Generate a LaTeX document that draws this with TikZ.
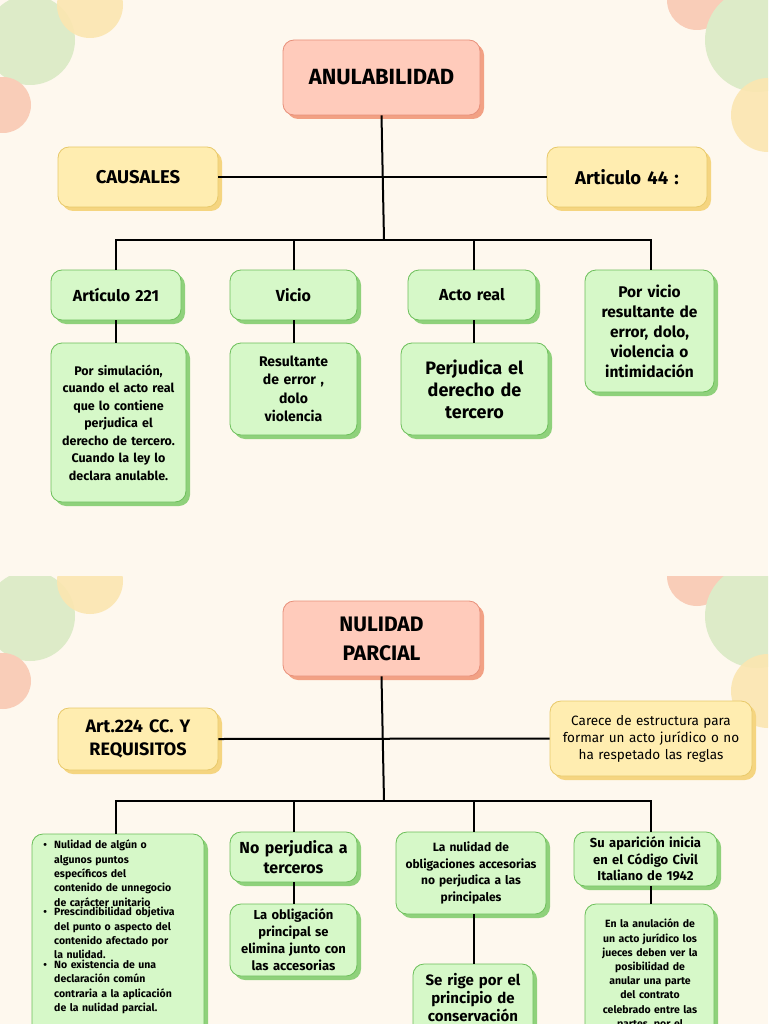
\documentclass[tikz,border=0pt]{standalone}
\usepackage{fontspec}
\setmainfont{Fira Sans}
\usetikzlibrary{shadows}
\definecolor{bg}{HTML}{FEF8EE}
\definecolor{pkf}{HTML}{FFCBBB}\definecolor{pkd}{HTML}{E8907A}\definecolor{pks}{HTML}{F2A184}
\definecolor{ylf}{HTML}{FFEDB0}\definecolor{yld}{HTML}{E8C96A}\definecolor{yls}{HTML}{F5D580}
\definecolor{gnf}{HTML}{D6F8C8}\definecolor{gnd}{HTML}{6CBF5A}\definecolor{gns}{HTML}{8FD17B}
\definecolor{cg}{HTML}{DDEBC8}\definecolor{cy}{HTML}{FBE6B0}\definecolor{cp}{HTML}{F9CDB8}
\tikzset{
  pk/.style={fill=pkf,draw=pkd,drop shadow={shadow xshift=4pt,shadow yshift=-4pt,fill=pks,opacity=1}},
  yl/.style={fill=ylf,draw=yld,drop shadow={shadow xshift=4pt,shadow yshift=-4pt,fill=yls,opacity=1}},
  gn/.style={fill=gnf,draw=gnd,drop shadow={shadow xshift=4pt,shadow yshift=-4pt,fill=gns,opacity=1}},
  bxs/.style={rounded corners=11pt,line width=0.8pt,inner sep=0pt,align=center},
  ln/.style={line width=2pt,black},
  fs/.style 2 args={font=\bfseries\fontsize{#1}{#2}\selectfont},
  every node/.append style={execute at begin node={\hyphenpenalty=10000\exhyphenpenalty=10000}},
}
\newcommand\bx[7]{\node[bxs,#6,minimum width={#4pt-#2pt},minimum height={#5pt-#3pt},text width={#4pt-#2pt-4pt}] (#1) at ({(#2+#4)/2},{(#3+#5)/2}) {#7};}
\newcommand\bul[1]{\makebox[18pt][c]{•}\parbox[t]{150pt}{\raggedright #1}\par}
\newcommand\circs[1]{
  \begin{scope}[yshift={-#1pt}]
  \clip (0,0) rectangle (768,448);
  \fill[cg] (30,40) circle (45);
  \fill[cy,opacity=.9] (90,5) circle (33);
  \fill[cp] (3,105) circle (28);
  \fill[cp] (697,0) circle (30);
  \fill[cg] (757,40) circle (52);
  \fill[cy,opacity=.9] (768,115) circle (37);
  \end{scope}}
\begin{document}
\begin{tikzpicture}[x=1pt,y=-1pt]
\useasboundingbox (0,0) rectangle (768,1024);
\clip (0,0) rectangle (768,1024);
\fill[bg] (0,0) rectangle (768,1024);
\circs{0}
\circs{576}
% ---- top half
\bx{ana}{283}{40}{480}{115}{pk,fs={22}{26}}{ANULABILIDAD}
\bx{cau}{58}{147}{218}{207}{yl,fs={18.5}{22}}{CAUSALES}
\bx{a44}{547}{147}{707}{207}{yl,fs={18.5}{22}}{Articulo 44 :}
\bx{t1}{51}{270}{181}{320}{gn,fs={16}{19}}{Artículo 221}
\bx{t2}{230}{270}{357}{320}{gn,fs={16}{19}}{Vicio}
\bx{t3}{408}{270}{536}{320}{gn,fs={16}{19}}{Acto real}
\bx{t4}{585}{270}{714}{392}{gn,fs={15.5}{20}}{Por vicio\\ resultante de\\ error, dolo,\\ violencia o\\ intimidación}
\bx{c1}{51}{343}{186}{502}{gn,fs={12.5}{17.5}}{Por simulación,\\ cuando el acto real\\ que lo contiene\\ perjudica el\\ derecho de tercero.\\ Cuando la ley lo\\ declara anulable.}
\bx{c2}{230}{343}{357}{435}{gn,fs={14}{18.5}}{Resultante\\ de error ,\\ dolo\\ violencia}
\bx{c3}{401}{343}{548}{435}{gn,fs={18}{22}}{Perjudica el\\ derecho de\\ tercero}
\coordinate (b1) at (384,240);
\draw[ln] (ana.south) -- (b1);
\draw[ln] (cau.east) -- (a44.west);
\draw[ln] (t1.north -| 116,0) |- (b1) -| (t4.north -| 651,0);
\draw[ln] (t2.north -| 294,0) -- (294,240);
\draw[ln] (t3.north -| 474,0) -- (474,240);
\draw[ln] (116,320) -- (c1.north -| 116,0);
\draw[ln] (294,320) -- (c2.north -| 294,0);
\draw[ln] (474,320) -- (c3.north -| 474,0);
% ---- bottom half
\bx{nul}{283}{601}{480}{676}{pk,fs={21}{29}}{NULIDAD\\ PARCIAL}
\bx{art}{58}{708}{218}{770}{yl,fs={18}{23}}{Art.224 CC. Y\\ REQUISITOS}
\bx{car}{550}{701}{752}{776}{yl,font=\fontsize{13.5}{17}\selectfont}{Carece de estructura para\\ formar un acto jurídico o no\\ ha respetado las reglas}
\bx{n1}{230}{832}{357}{882}{gn,fs={16}{20}}{No perjudica a\\ terceros}
\bx{n2}{230}{904}{357}{976}{gn,fs={13}{17}}{La obligación\\ principal se\\ elimina junto con\\ las accesorias}
\bx{n3}{396}{832}{546}{914}{gn,fs={12}{16.5}}{La nulidad de\\ obligaciones accesorias\\ no perjudica a las\\ principales}
\bx{n4}{574}{832}{717}{886}{gn,fs={13}{16.5}}{Su aparición inicia\\ en el Código Civil\\ Italiano de 1942}
\bx{bl}{32}{834}{204}{1040}{gn}{}
\node[anchor=north west,text width=168pt,inner sep=0pt,align=left,fs={10.5}{14.3}] (blt) at (36,840) {%
\bul{Nulidad de algún o\\ algunos puntos\\ específicos del\\ contenido de unnegocio\\ de carácter unitario}
\bul{Prescindibilidad objetiva\\ del punto o aspecto del\\ contenido afectado por\\ la nulidad.}
\bul{No existencia de una\\ declaración común\\ contraria a la aplicación\\ de la nulidad parcial.}};
\bx{n5}{413}{964}{533}{1040}{gn}{}
\node[anchor=north,text width=120pt,inner sep=0pt,align=center,fs={15}{18}] (n5t) at (473,973) {Se rige por el\\ principio de\\ conservación};
\bx{n6}{585}{904}{714}{1040}{gn}{}
\node[anchor=north,text width=128pt,inner sep=0pt,align=center,fs={10.5}{14.2}] (n6t) at (650,919) {En la anulación de\\ un acto jurídico los\\ jueces deben ver la\\ posibilidad de\\ anular una parte\\ del contrato\\ celebrado entre las\\ partes, por el};
\coordinate (b2) at (384,801);
\draw[ln] (nul.south) -- (b2);
\draw[ln] (art.east) -- (car.west);
\draw[ln] (bl.north -| 116,0) |- (b2) -| (n4.north -| 651,0);
\draw[ln] (n1.north -| 294,0) -- (294,801);
\draw[ln] (n3.north -| 474,0) -- (474,801);
\draw[ln] (294,882) -- (n2.north -| 294,0);
\draw[ln] (474,914) -- (n5.north -| 474,0);
\draw[ln] (651,886) -- (n6.north -| 651,0);
\end{tikzpicture}
\end{document}
